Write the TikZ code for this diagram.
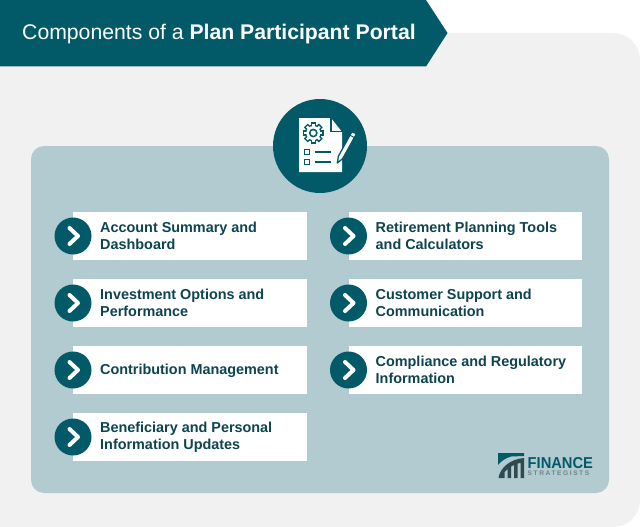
\documentclass[tikz,border=0pt]{standalone}
\usepackage{fontspec}
\setmainfont{Liberation Sans}
\newfontfamily\logofont[FakeStretch=0.93]{Liberation Sans}
\newfontfamily\logofontb[LetterSpace=24]{Liberation Sans}
\definecolor{teal1}{HTML}{025A68}
\definecolor{greybg}{HTML}{F1F1F1}
\definecolor{panel}{HTML}{B2CBD1}
\definecolor{txt}{HTML}{0E4450}
\definecolor{logoG}{HTML}{2F4A50}
\definecolor{logoS}{HTML}{6F8488}
\tikzset{
  rowbox/.style={fill=white,draw=none,minimum width=233.5pt,minimum height=48pt,anchor=west,inner sep=0pt},
  rowtext/.style={anchor=west,align=left,text=txt,font=\fontsize{14.4}{17}\selectfont\bfseries,inner sep=0pt},
  bullet/.style={circle,fill=teal1,draw=none,minimum size=37pt,inner sep=0pt},
  chev/.style={draw=white,line width=4pt,line cap=round,line join=round},
  ic/.style={draw=teal1,line width=1.5pt,fill=none}
}
\begin{document}
\begin{tikzpicture}[x=1pt,y=-1pt]
\useasboundingbox (0,0) rectangle (640,527);
\fill[white] (0,0) rectangle (640,527);
% background
\fill[greybg,rounded corners=27pt] (-40,33) rectangle (640,527);
\fill[greybg] (-1,33) rectangle (30,480);
\fill[greybg] (0,480) -- (0,500) .. controls (0,515) and (12,527) .. (27,527) -- (40,527) -- (40,480) -- cycle;
% banner
\fill[teal1] (0,0) -- (426,0) -- (447.5,33) -- (426,66.5) -- (0,66.5) -- cycle;
\node[anchor=base west,inner sep=0pt,text=white,font=\fontsize{21.2}{24}\selectfont] (title) at (22,40) {Components of a \textbf{Plan Participant Portal}};
% panel
\fill[panel,rounded corners=13pt] (31,146) rectangle (609,493);
% icon
\node[circle,fill=teal1,minimum size=94pt,inner sep=0pt] (icon) at (320,146) {};
\fill[white] (299,118) -- (331,118) -- (342,132) -- (342,172) -- (299,172) -- cycle;
\draw[teal1,line width=1.2pt] (331,117.5) -- (331,131.5) -- (342.5,131.5);
\begin{scope}[shift={(313.3,133)}]
  \foreach \a in {0,45,...,315}{
    \fill[teal1,rotate=\a] (-2.7,-10.6) rectangle (2.7,-6.5);
  }
  \draw[teal1,line width=1.5pt] (0,0) circle[radius=7.6];
  \fill[white] (0,0) circle[radius=7];
  \foreach \a in {0,45,...,315}{
    \fill[white,rotate=\a] (-1.2,-9.1) rectangle (1.2,-6);
  }
  \draw[ic] (0,0) circle[radius=3.6];
\end{scope}
\draw[ic] (304.6,149.6) rectangle (309.6,154.6);
\draw[ic] (304.6,159.6) rectangle (309.6,164.6);
\draw[teal1,line width=1.6pt] (314.5,152) -- (331,152) (314.5,162) -- (331,162);
\draw[teal1,fill=white,line width=1.3pt,line join=round] (352,131.5) -- (356.4,133.9) -- (342.6,158.7) -- (337.3,163) -- (338.4,156.2) -- cycle;
\draw[teal1,line width=.9pt] (350.2,135.3) -- (354,137.4);
% rows
\foreach \nm/\xx/\yy/\ty/\tx in {
 a/73/236/236/{Account Summary and\\Dashboard},
 b/73/303/303/{Investment Options and\\Performance},
 c/73/370/371/{Contribution Management},
 d/73/437/437/{Beneficiary and Personal\\Information Updates},
 e/348.5/236/236/{Retirement Planning Tools\\and Calculators},
 f/348.5/303/303/{Customer Support and\\Communication},
 g/348.5/370/370/{Compliance and Regulatory\\Information}}{
  \node[rowbox] (box\nm) at (\xx,\yy) {};
  \node[bullet] (bul\nm) at (\xx,\yy) {};
  \draw[chev] (\xx-3.5,\yy-8) -- (\xx+5,\yy) -- (\xx-3.5,\yy+8);
  \node[rowtext] (txt\nm) at (\xx+27,\ty) {\tx};
}
% logo
\fill[teal1] (498,453) -- (524,453) -- (524,456) -- (511,456.5) .. controls (506,458) and (501,461) .. (498,465) -- cycle;
\fill[logoG] (498.5,478) .. controls (500,468) and (510,459) .. (524,458) -- (524,478) -- (520.5,478) -- (520.5,463) -- (517.5,463.5) -- (517.5,478) -- (514,478) -- (514,465) -- (511,466.5) -- (511,478) -- (507.5,478) -- (507.5,469) -- (504.5,472) -- (504.5,478) -- cycle;
\node[anchor=base west,inner sep=0pt,text=teal1,font=\logofont\fontsize{15.8}{16}\selectfont\bfseries] (logoa) at (527.5,468) {FINANCE};
\node[anchor=base west,inner sep=0pt,text=logoS,font=\logofontb\fontsize{6.6}{8}\selectfont\bfseries] (logob) at (527.5,475.5) {STRATEGISTS};
\end{tikzpicture}
\end{document}
